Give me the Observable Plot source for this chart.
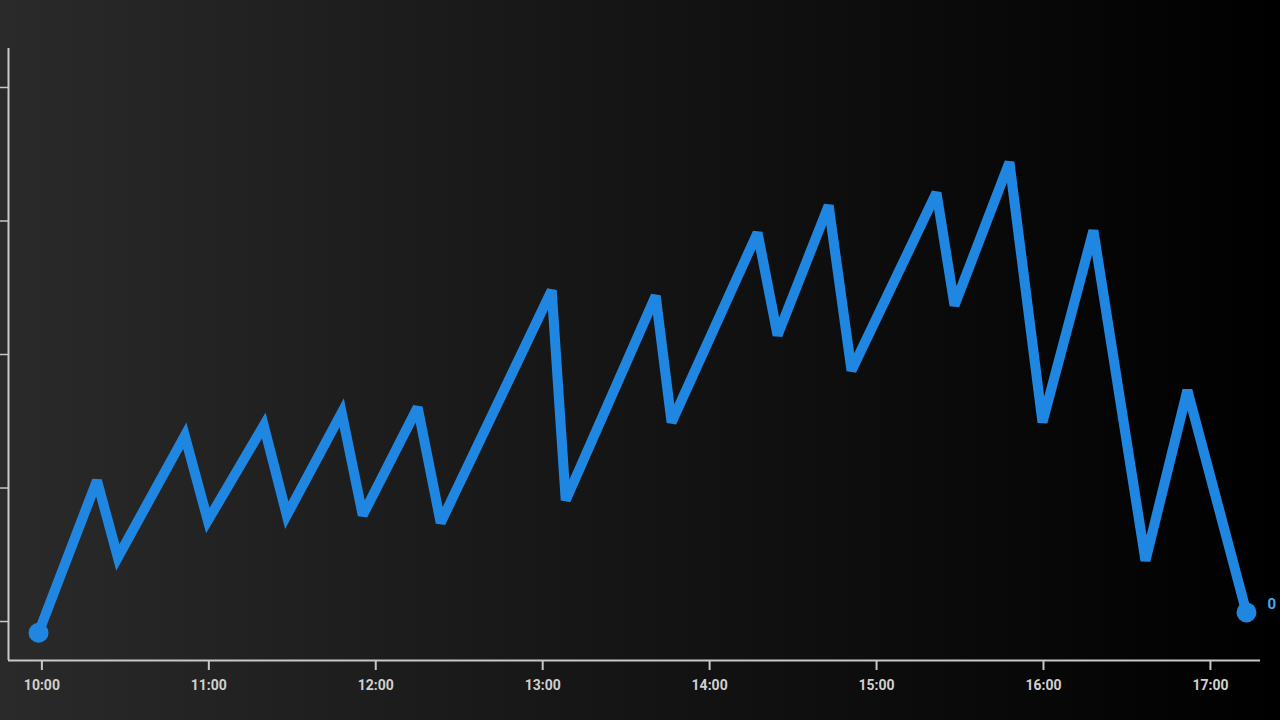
<!DOCTYPE html>
<html>
<head>
<meta charset="utf-8">
<script src="https://cdn.jsdelivr.net/npm/d3@7"></script>
<script src="https://cdn.jsdelivr.net/npm/@observablehq/plot@0.6"></script>
<style>
html, body { margin: 0; padding: 0; width: 1280px; height: 720px; overflow: hidden;
  background: linear-gradient(90deg, #2a2a2a 0%, #161616 45%, #000000 100%); }
#chart svg { display: block; background: transparent; }
</style>
</head>
<body>
<div id="chart"></div>
<script>
// Series (x in tick units, y in value units)
const xs = [-0.02, 0.33, 0.455, 0.856, 0.994, 1.329, 1.467, 1.796, 1.922, 2.251, 2.389, 3.054, 3.138, 3.677, 3.772, 4.287, 4.407, 4.713, 4.85, 5.359, 5.467, 5.796, 5.994, 6.299, 6.611, 6.862, 7.216];
const ys = [-2.1, 26.4, 12.0, 34.8, 18.9, 36.7, 19.9, 39.1, 19.9, 40.1, 18.5, 62.0, 22.7, 61.0, 37.3, 72.8, 53.6, 77.9, 47.0, 80.3, 59.2, 86.0, 37.3, 73.2, 11.4, 43.3, 1.7];
const xTicks = [0, 1, 2, 3, 4, 5, 6, 7];
const xTickLabels = ["10:00", "11:00", "12:00", "13:00", "14:00", "15:00", "16:00", "17:00"];
const yTicks = [0, 25, 50, 75, 100];
const endLabel = "0";

const data = xs.map((x, i) => ({x, y: ys[i]}));
const ends = [data[0], data[data.length - 1]];

const chart = Plot.plot({
  width: 1280,
  height: 720,
  marginLeft: 8,
  marginRight: 20,
  marginTop: 48,
  marginBottom: 60,
  style: {background: "transparent", color: "#cfcfcf", fontFamily: "Roboto, sans-serif", overflow: "visible"},
  x: {type: "linear", domain: [-0.2, 7.3], label: null},
  y: {type: "linear", domain: [-7.3, 107.3], label: null},
  marks: [
    Plot.ruleX([-0.2], {stroke: "#c8c8c8", strokeWidth: 2}),
    Plot.ruleY([-7.3], {stroke: "#c8c8c8", strokeWidth: 2}),
    Plot.axisY(yTicks, {anchor: "left", tickSize: 8, tickFormat: () => "", label: null, stroke: "#c8c8c8", strokeWidth: 1.5}),
    Plot.axisX(xTicks, {anchor: "bottom", tickSize: 10, tickPadding: 10, tickFormat: (d, i) => xTickLabels[i], label: null,
      stroke: "#c8c8c8", strokeWidth: 2, fill: "#d0d0d0", fontSize: 14, fontWeight: "bold"}),
    Plot.line(data, {x: "x", y: "y", stroke: "#1f87e2", strokeWidth: 10, strokeLinejoin: "miter", strokeMiterlimit: 3, strokeLinecap: "round"}),
    Plot.dot(ends, {x: "x", y: "y", r: 10, fill: "#1f87e2"}),
    Plot.text([data[data.length - 1]], {x: "x", y: "y", text: () => endLabel, dx: 21, dy: -8, textAnchor: "start",
      fill: "#4aa8f0", fontSize: 15, fontWeight: "bold"})
  ]
});
document.getElementById("chart").appendChild(chart);
</script>
</body>
</html>
